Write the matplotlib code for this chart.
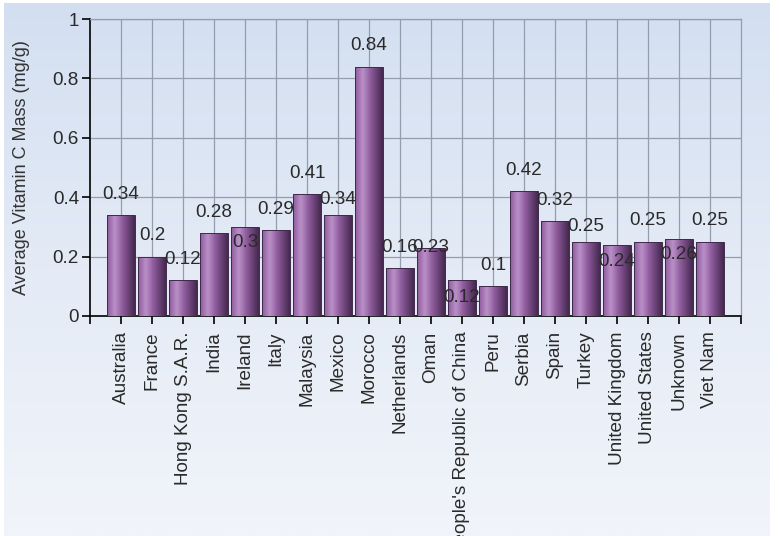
import numpy as np
import matplotlib
matplotlib.use("Agg")
import matplotlib.pyplot as plt
from matplotlib.colors import LinearSegmentedColormap

countries = ["Australia", "France", "Hong Kong S.A.R.", "India", "Ireland", "Italy",
             "Malaysia", "Mexico", "Morocco", "Netherlands", "Oman",
             "People's Republic of China", "Peru", "Serbia", "Spain", "Turkey",
             "United Kingdom", "United States", "Unknown", "Viet Nam"]
vitamin_c = [0.34, 0.2, 0.12, 0.28, 0.3, 0.29, 0.41, 0.34, 0.84, 0.16, 0.23,
             0.12, 0.1, 0.42, 0.32, 0.25, 0.24, 0.25, 0.26, 0.25]
value_labels = ["0.34", "0.2", "0.12", "0.28", "0.3", "0.29", "0.41", "0.34", "0.84", "0.16", "0.23",
                "0.12", "0.1", "0.42", "0.32", "0.25", "0.24", "0.25", "0.26", "0.25"]
y_ticks = [0, 0.2, 0.4, 0.6, 0.8, 1]
y_tick_labels = ["0", "0.2", "0.4", "0.6", "0.8", "1"]

# label shift (points) relative to bar top, mimics the overlap handling of the original
label_shift = [15, 15, 15, 15, -11.5, 15, 15, 11, 15, 15, 0,
               -12, 15, 15, 15, 11, -12, 15, -11.5, 15]

plt.rcParams['font.family'] = ['Liberation Sans', 'DejaVu Sans']
FS = 13.6

fig = plt.figure(figsize=(7.79, 5.36), dpi=100)

# background gradient
bg = fig.add_axes([4/779, 0, 766/779, 533/536], zorder=-5)
grad = np.linspace(0, 1, 256).reshape(-1, 1)
bg_cmap = LinearSegmentedColormap.from_list("bg", ["#d3dff1", "#e4ebf6", "#f1f4fa"])
bg.imshow(grad, aspect='auto', cmap=bg_cmap, extent=[0, 1, 0, 1], origin='upper')
bg.set_axis_off()

ax = fig.add_axes([90/779, 220/536, 651/779, 297/536])
ax.set_facecolor('none')

x = np.arange(len(countries))
bars = ax.bar(x, vitamin_c, width=0.88, facecolor='none', edgecolor='#3f2a4a', linewidth=0.7, zorder=4)

bar_cmap = LinearSegmentedColormap.from_list(
    "bar", [(0, "#8e5a9c"), (0.28, "#ba90c8"), (0.55, "#8f5c9d"), (1.0, "#45284f")])
hgrad = np.linspace(0, 1, 128).reshape(1, -1)
for b in bars:
    im = ax.imshow(hgrad, aspect='auto', cmap=bar_cmap,
                   extent=[b.get_x(), b.get_x() + b.get_width(), 0, b.get_height()],
                   zorder=3)
    im.set_clip_path(b)

for xi, v, lab, dy in zip(x, vitamin_c, value_labels, label_shift):
    ax.annotate(lab, (xi, v), xytext=(0, dy), textcoords='offset points',
                ha='center', va='center', fontsize=FS, color='#2a2a2a', zorder=6)

ax.set_xlim(-1, len(countries))
ax.set_ylim(0, 1)
ax.set_yticks(y_ticks)
ax.set_yticklabels(y_tick_labels, fontsize=FS, color='#2a2a2a')
ax.set_xticks(x)
ax.set_xticklabels(countries, rotation=90, fontsize=FS, color='#2a2a2a')
ax.set_xticks([-1, len(countries)], minor=True)
ax.tick_params(axis='both', which='both', direction='out', length=6, width=1.2, color='black')
ax.tick_params(axis='y', pad=2)
ax.tick_params(axis='x', pad=5)

ax.grid(True, color='#959cab', linewidth=0.9, zorder=0)
ax.set_axisbelow(True)
for s in ['top', 'right']:
    ax.spines[s].set_color('#959cab')
    ax.spines[s].set_linewidth(0.9)
for s in ['left', 'bottom']:
    ax.spines[s].set_color('black')
    ax.spines[s].set_linewidth(1.2)

ax.set_ylabel("Average Vitamin C Mass (mg/g)", fontsize=FS - 0.6, color='#333333', labelpad=16)

fig.savefig("out.png", dpi=100)
